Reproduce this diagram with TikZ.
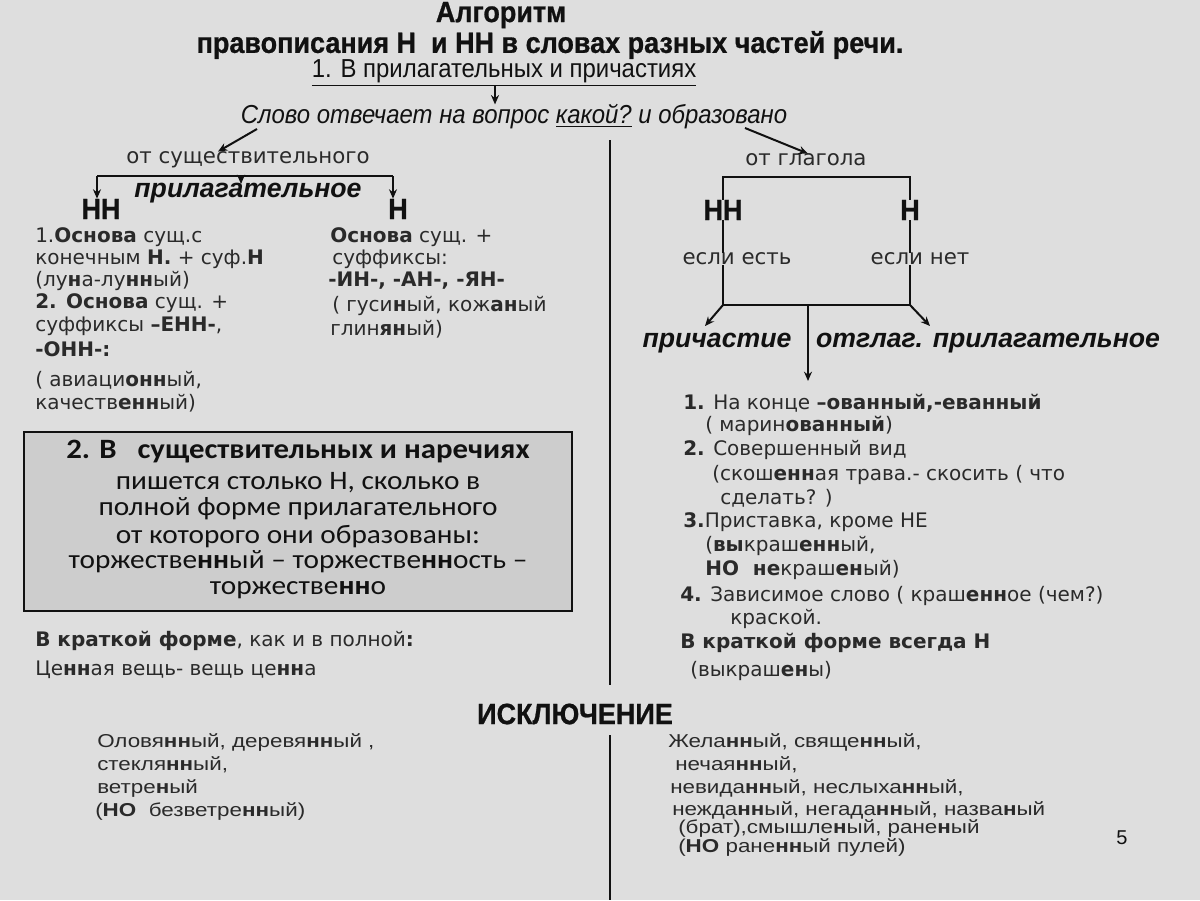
\documentclass[tikz,border=0pt]{standalone}
\usepackage{fontspec}
\setmainfont{DejaVu Sans}
\newfontfamily\titlef[FakeStretch=0.92,FakeBold=0.8]{Liberation Sans}
\newfontfamily\boxf[FakeStretch=1.1]{Carlito}
\newfontfamily\plainf{Liberation Sans}
\newfontfamily\narf[FakeStretch=0.92]{Liberation Sans}
\newfontfamily\widef[FakeStretch=1.2]{Liberation Sans}
\usetikzlibrary{arrows.meta}
\definecolor{bg}{HTML}{DEDEDE}
\definecolor{boxfill}{HTML}{CDCDCD}
\definecolor{ink}{HTML}{111111}
\definecolor{soft}{HTML}{2A2A2A}
\newcommand\bodyf{\fontsize{15}{17}\selectfont}
\newcommand\labf{\fontsize{16}{18}\selectfont}
\newcommand\nb[1]{\textbf{#1}}
\tikzset{
  x=0.75pt, y=-0.75pt,
  txt/.style={anchor=west, inner sep=0pt, text=soft, font=\bodyf},
  ctxt/.style={anchor=center, inner sep=0pt, text=soft, font=\labf},
  ttl/.style={anchor=center, inner sep=0pt, text=ink, font=\titlef\bfseries\fontsize{22}{24}\selectfont},
  nar/.style={anchor=west, inner sep=0pt, text=soft, font=\widef\fontsize{14}{16}\selectfont},
  bigh/.style={anchor=center, inner sep=0pt, text=ink, font=\titlef\bfseries\fontsize{22}{24}\selectfont},
  kind/.style={anchor=center, inner sep=0pt, text=ink, font=\plainf\bfseries\itshape\fontsize{20}{22}\selectfont},
  boxt/.style={anchor=base, inner sep=0pt, text=ink, font=\boxf\fontsize{20}{22}\selectfont},
  line/.style={line width=1.5pt, draw=ink},
  arr/.style={line width=1.5pt, draw=ink, -{Stealth[length=7pt,width=6pt]}},
}
\begin{document}
\begin{tikzpicture}
\fill[bg] (0,0) rectangle (1200,900);
\useasboundingbox (0,0) rectangle (1200,900);

% title
\node[ttl] (t1) at (501,15) {Алгоритм};
\node[ttl] (t2) at (550,45) {правописания Н\ \ и НН в словах разных частей речи.};
\node[anchor=center, inner sep=0pt, text=ink, font=\narf\fontsize{19.5}{21}\selectfont] (t3) at (504,73) {\underline{1. В прилагательных и причастиях}};
\node[anchor=center, inner sep=0pt, text=ink, font=\narf\itshape\fontsize{19.5}{21}\selectfont] (q) at (514,117) {Слово отвечает на вопрос \underline{какой?} и образовано};
\draw[arr] (t3.south -| 495,0) -- (q.north -| 495,0);

% separator
\coordinate (s1) at (610,140);
\coordinate (s2) at (610,685);
\coordinate (s3) at (610,735);
\coordinate (s4) at (610,900);
\draw[line] (s1) -- (s2);
\draw[line] (s3) -- (s4);

% left branch
\node[ctxt] (os) at (248,160) {от существительного};
\coordinate (qa) at (257,129);
\draw[arr] (qa) -- (os.north -| 218,0);
\node[bigh] (nn1) at (101,209) {НН};
\node[bigh] (h1) at (398,209) {Н};
\node[kind] (adj) at (248,193) {прилагательное};
\coordinate (lbL) at (97,176);
\coordinate (lbR) at (393,176);
\coordinate (lbM) at (241,176);
\draw[line] (lbL) -- (lbR);
\draw[arr] (lbL) -- (nn1.north -| lbL);
\draw[arr] (lbR) -- (h1.north -| lbR);
\draw[arr] (lbM) -- ++(0,8);

% left columns
\node[txt] (l1) at (35,237) {1.\nb{Основа} сущ.с};
\node[txt] (l2) at (35,259) {конечным \nb{Н.} + суф.\nb{Н}};
\node[txt] (l3) at (35,281) {(лу\nb{н}а-лу\nb{нн}ый)};
\node[txt] (l4) at (35,303) {\nb{2. Основа} сущ. +};
\node[txt] (l5) at (35,326) {суффиксы \nb{–ЕНН-},};
\node[txt] (l6) at (35,349) {\nb{-ОНН-:}};
\node[txt] (l7) at (35,380) {( авиаци\nb{онн}ый,};
\node[txt] (l8) at (35,403) {качеств\nb{енн}ый)};

\node[txt] (r1) at (330,237) {\nb{Основа} сущ. +};
\node[txt] (r2) at (332,259) {суффиксы:};
\node[txt] (r3) at (328,281) {\nb{-ИН-, -АН-, -ЯН-}};
\node[txt] (r4) at (332,306) {( гуси\nb{н}ый, кож\nb{ан}ый};
\node[txt] (r5) at (330,329) {глин\nb{ян}ый)};

% box
\node[draw=ink, line width=1pt, fill=boxfill, minimum width=548*0.75pt, minimum height=179*0.75pt, inner sep=0pt] (bx) at (298,521.5) {};
\node[boxt, font=\boxf\bfseries\fontsize{21}{23}\selectfont] (b1) at (298,458) {2. В\ \ \ существительных и наречиях};
\node[boxt] (b2) at (298,489) {пишется столько Н, сколько в};
\node[boxt] (b3) at (298,515.5) {полной форме прилагательного};
\node[boxt] (b4) at (298,543) {от которого они образованы:};
\node[boxt] (b5) at (298,568) {торжестве\textbf{нн}ый – торжестве\textbf{нн}ость –};
\node[boxt] (b6) at (298,594) {торжестве\textbf{нн}о};

\node[txt] (k1) at (35,641) {\nb{В краткой форме}, как и в полной\nb{:}};
\node[txt] (k2) at (35,670) {Це\nb{нн}ая вещь- вещь це\nb{нн}а};

% right branch
\node[ctxt] (og) at (806,160) {от глагола};
\coordinate (qb) at (745,128);
\draw[arr] (qb) -- (og.north -| 808,0);
\node[bigh] (nn2) at (723,210) {НН};
\node[bigh] (h2) at (910,210) {Н};
\coordinate (rbL) at (723,177);
\coordinate (rbR) at (910,177);
\draw[line] (nn2.north) -- (rbL) -- (rbR) -- (h2.north);
\node[ctxt] (e1) at (737,259) {если есть};
\node[ctxt] (e2) at (920,259) {если нет};
\coordinate (rdL) at (723,305);
\coordinate (rdR) at (910,305);
\coordinate (rdM) at (808,305);
\draw[line] (nn2.south) -- (nn2.south |- e1.north);
\draw[line] (h2.south) -- (h2.south |- e2.north);
\draw[line] (nn2.south |- e1.south) -- (rdL) -- (rdR) -- (h2.south |- e2.south);
\node[kind] (pr) at (717,343) {причастие};
\node[kind] (op) at (988,343) {отглаг. прилагательное};
\coordinate (pa) at (705,326);
\coordinate (pb) at (930,326);
\coordinate (pc) at (808,381);
\draw[arr] (rdL) -- (pa);
\draw[arr] (rdR) -- (pb);
\draw[arr] (rdM) -- (pc);

% right list
\node[txt] (m1) at (683,403) {\nb{1.} На конце \nb{–ованный,-еванный}};
\node[txt] (m2) at (705,426) {( марин\nb{ованный})};
\node[txt] (m3) at (683,450) {\nb{2.} Совершенный вид};
\node[txt] (m4) at (712,475) {(скош\nb{енн}ая трава.- скосить ( что};
\node[txt] (m5) at (720,498) {сделать? )};
\node[txt] (m6) at (683,522) {\nb{3.}Приставка, кроме НЕ};
\node[txt] (m7) at (705,546) {(\nb{вы}краш\nb{енн}ый,};
\node[txt] (m8) at (705,570) {\nb{НО\ \ не}краш\nb{ен}ый)};
\node[txt] (m9) at (680,596) {\nb{4.} Зависимое слово ( краш\nb{енн}ое (чем?)};
\node[txt] (m10) at (730,619) {краской.};
\node[txt] (m11) at (680,643) {\nb{В краткой форме всегда Н}};
\node[txt] (m12) at (690,671) {(выкраш\nb{ен}ы)};

% exceptions
\node[bigh] (ex) at (575,714) {ИСКЛЮЧЕНИЕ};
\node[nar] (x1) at (97,742) {Оловя\nb{нн}ый, деревя\nb{нн}ый ,};
\node[nar] (x2) at (97,765) {стекля\nb{нн}ый,};
\node[nar] (x3) at (97,788) {ветре\nb{н}ый};
\node[nar] (x4) at (95,811) {(\nb{НО}\ \ безветре\nb{нн}ый)};

\node[nar] (y1) at (668,742) {Жела\nb{нн}ый, свяще\nb{нн}ый,};
\node[nar] (y2) at (675,765) {нечая\nb{нн}ый,};
\node[nar] (y3) at (670,788) {невида\nb{нн}ый, неслыха\nb{нн}ый,};
\node[nar] (y4) at (672,810) {нежда\nb{нн}ый, негада\nb{нн}ый, назва\nb{н}ый};
\node[nar] (y5) at (678,828) {(брат),смышле\nb{н}ый, ране\nb{н}ый};
\node[nar] (y6) at (678,847) {(\nb{НО} ране\nb{нн}ый пулей)};

\node[anchor=center, inner sep=0pt, text=ink, font=\plainf\fontsize{15}{17}\selectfont] (pg) at (1122,838) {5};
\end{tikzpicture}
\end{document}
